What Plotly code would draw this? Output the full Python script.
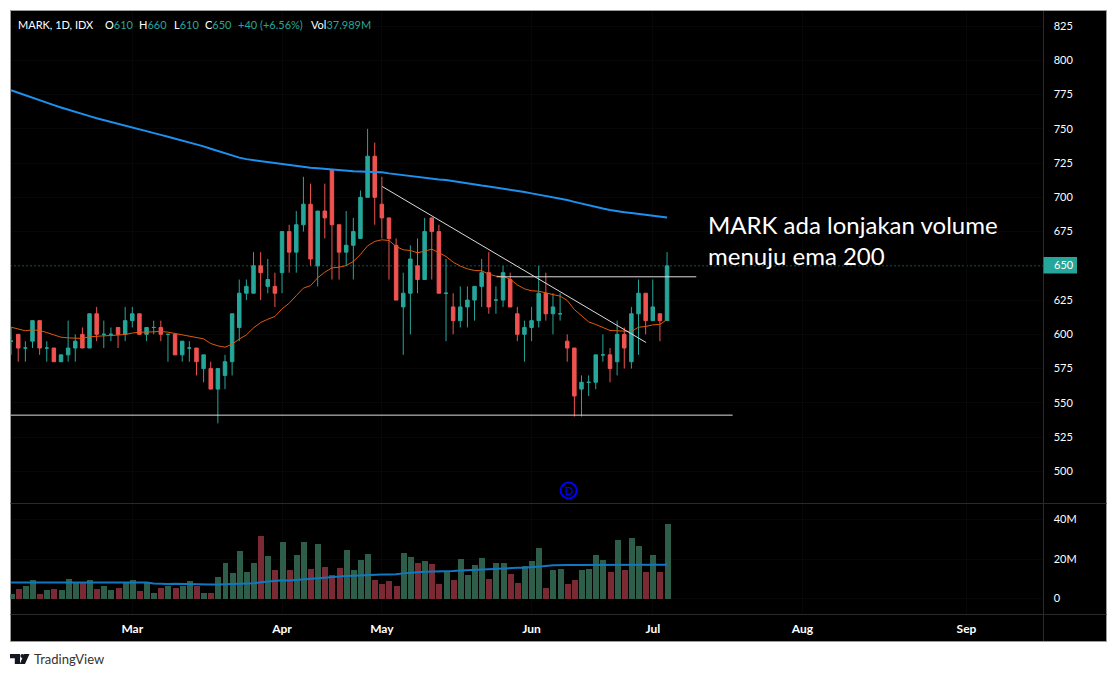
import plotly.graph_objects as go

W, H = 1117, 677
FONT = "Lato"

# Daily bars, oldest first
opens = [595,600,590,595,610,590,590,580,585,590,600,590,615,600,600,605,600,610,615,600,605,605,600,600,585,590,590,575,575,560,
         570,580,605,630,630,650,635,635,645,675,660,680,695,650,690,720,680,660,665,670,700,730,695,685,665,620,630,650,640,685,
         675,630,620,610,620,625,635,645,625,625,640,615,600,605,610,630,615,615,595,590,560,565,565,585,585,580,600,580,615,630,610,615,610]
highs = [605,600,595,610,610,595,590,585,610,600,605,615,620,610,605,605,620,620,615,605,610,610,600,600,595,595,590,585,580,575,
         585,615,640,640,660,660,655,645,675,680,690,715,710,690,710,720,680,690,685,705,750,740,715,685,670,645,665,670,685,685,
         680,655,630,635,635,635,655,660,635,650,645,620,610,620,650,645,630,630,600,590,570,570,585,600,590,610,605,620,640,630,640,615,660]
lows = [585,580,580,590,585,580,580,580,580,580,590,590,595,590,595,590,595,605,600,595,600,595,580,585,580,580,570,565,560,535,
        560,570,595,625,630,625,630,620,630,645,645,675,650,635,670,640,640,650,640,670,700,680,670,640,625,585,600,630,640,640,
        630,595,600,605,605,610,620,615,615,620,620,595,580,595,605,610,600,610,580,540,540,555,560,580,565,570,575,575,585,600,610,595,610]
closes = [595,590,590,610,590,590,580,585,590,595,590,615,600,600,600,600,610,615,600,605,605,600,600,585,595,590,580,585,560,575,
          580,615,630,635,650,645,640,630,675,660,680,695,655,690,685,680,660,665,675,700,730,700,685,670,625,630,655,640,675,675,
          630,630,610,620,625,635,645,620,625,645,620,600,605,610,630,615,620,615,590,555,565,565,585,585,575,600,590,615,630,610,620,610,650]

# Volume in millions of shares
volumes = [2.5,5.1,6.6,9.7,2.5,4.6,5.1,4.6,10.2,8.1,8.1,9.7,5.1,6.6,4.6,5.6,8.1,9.7,4.1,8.1,3.1,5.6,6.6,5.6,6.6,9.2,6.6,3.1,3.1,11.2,
           18.3,13.2,24.4,13.7,18.3,32.0,21.9,14.7,29.0,14.7,22.4,29.0,15.3,28.0,16.3,12.2,15.8,24.9,14.7,19.8,22.9,9.7,7.6,9.2,6.6,23.4,21.4,18.3,19.3,17.8,
           7.6,13.7,9.7,20.3,12.2,17.3,20.8,10.2,18.3,18.3,12.7,8.1,16.8,19.3,25.9,5.6,14.7,15.3,7.6,9.7,14.7,15.3,22.4,19.8,13.7,30.0,14.7,31.0,27.0,13.7,22.4,13.7,37.989]
volume_ma = [8.1,8.1,8.0,8.1,8.0,7.9,7.9,7.9,7.9,8.0,8.1,8.1,8.2,8.2,8.2,8.1,8.1,8.1,8.1,8.1,7.6,7.4,7.3,7.4,7.4,7.2,7.2,7.1,7.1,7.0,
             7.1,7.2,7.3,7.5,7.7,8.2,8.5,8.9,9.2,9.1,9.4,9.8,10.2,10.5,10.8,11.0,11.1,11.4,11.5,11.7,11.9,12.0,12.1,12.1,12.2,
             12.7,13.1,13.3,13.5,13.6,13.6,13.6,13.9,14.2,14.4,14.6,14.6,14.7,15.0,15.1,15.4,15.5,15.6,16.0,16.3,16.5,16.8,17.0,17.0,17.0,17.0,17.0,17.0,16.9,17.0,17.0,17.1,17.0,16.9,16.9,17.0,16.8,17.1]

# Moving averages of the close
ema20 = [605.2,603.8,602.6,603.3,602.8,601.3,599.4,597.9,597.4,597.2,597.0,598.2,598.7,598.9,599.1,599.4,599.9,600.9,601.6,601.6,602.1,602.1,601.6,600.6,599.9,599.1,597.7,596.7,593.3,591.6,
         590.6,592.8,596.5,599.6,604.7,608.6,611.0,613.0,618.6,622.7,628.3,633.7,635.6,641.2,645.4,648.5,649.0,650.2,653.2,658.3,664.6,667.8,669.0,668.5,664.1,661.7,661.2,659.5,660.7,662.2,
         659.7,656.8,652.7,649.8,647.8,646.6,646.4,643.9,642.5,642.2,640.3,636.1,633.2,631.8,631.5,630.0,629.0,627.9,624.7,618.1,613.3,609.1,607.2,605.0,602.8,602.6,602.1,602.1,605.2,605.7,606.9,607.2,610.8]
ema200 = [778.2,776.3,774.5,772.6,770.8,769.0,767.3,765.6,763.9,762.4,760.8,759.3,757.8,756.5,755.1,753.7,752.5,751.1,749.7,748.3,746.9,745.6,744.2,742.9,741.5,740.0,738.6,737.2,735.5,733.8,
          732.0,730.4,729.0,727.9,727.2,726.5,725.7,725.0,724.2,723.4,722.7,722.0,721.6,721.2,720.7,720.3,719.8,719.4,719.0,718.9,718.8,718.7,718.3,717.5,716.8,716.1,715.5,714.9,714.3,713.7,
          713.1,712.7,711.8,711.0,710.1,709.3,708.6,707.9,707.2,706.5,705.7,704.8,703.9,702.9,702.0,701.1,700.0,699.1,698.0,696.7,695.4,694.1,692.9,691.8,690.8,689.8,689.2,688.5,687.9,687.2,686.6,686.0,685.3]

# Drawn levels: (bar, price) pairs for the support, resistance and falling trend line
support_bars, support_prices = [-1, 101.2], [541, 541]
resist_bars, resist_prices = [68.1, 96.1], [642, 642]
trend_bars, trend_prices = [52.05, 89.07], [707.9, 594]

# Dividend marker
dividend_bar, dividend_price = [78.2], [486]

price_ticks = [500,525,550,575,600,625,675,700,725,750,775,800,825]
volume_ticks = [0, 20, 40]
volume_tick_labels = ["0", "20M", "40M"]
month_bars = [17, 38, 52, 73, 90, 111, 134]
month_labels = ["Mar", "Apr", "May", "Jun", "Jul", "Aug", "Sep"]

TEAL, RED = "#26a69a", "#ef5350"
VOL_UP, VOL_DOWN = "#2e5e49", "#7a2a33"
GRID = "#070707"
PANE_LINE = "#2a2a2a"
BORDER = "#9a9a9a"
LINE = "#dcdcdc"

bars = list(range(len(closes)))


def px_x(x):
    return x / W


def px_y(y):
    return 1 - y / H


up = [i for i in bars if closes[i] >= opens[i]]
down = [i for i in bars if closes[i] < opens[i]]

fig = go.Figure()


def add_candles(idx, color):
    fig.add_trace(go.Candlestick(
        x=idx,
        open=[opens[i] for i in idx], high=[highs[i] for i in idx],
        low=[lows[i] for i in idx], close=[closes[i] for i in idx],
        increasing=dict(line=dict(color=color, width=1), fillcolor=color),
        decreasing=dict(line=dict(color=color, width=1), fillcolor=color),
        whiskerwidth=0, showlegend=False, xaxis="x", yaxis="y", hoverinfo="skip",
    ))


add_candles(up, TEAL)
add_candles(down, RED)

fig.add_trace(go.Scatter(x=bars, y=ema200, mode="lines", line=dict(color="#1e90ee", width=2),
                         xaxis="x", yaxis="y", showlegend=False, hoverinfo="skip"))
fig.add_trace(go.Scatter(x=bars, y=ema20, mode="lines", line=dict(color="#e05a0c", width=1),
                         xaxis="x", yaxis="y", showlegend=False, hoverinfo="skip"))

for xs, ys in ((support_bars, support_prices), (resist_bars, resist_prices), (trend_bars, trend_prices)):
    fig.add_trace(go.Scatter(x=xs, y=ys, mode="lines", line=dict(color=LINE, width=1),
                             xaxis="x", yaxis="y", showlegend=False, hoverinfo="skip"))

fig.add_trace(go.Scatter(
    x=dividend_bar, y=dividend_price, mode="markers",
    marker=dict(symbol="circle", size=16, color="#000000", line=dict(color="#0000ff", width=2)),
    xaxis="x", yaxis="y", showlegend=False, hoverinfo="skip",
))

fig.add_trace(go.Bar(
    x=bars, y=volumes, width=0.84,
    marker=dict(color=[VOL_UP if closes[i] >= opens[i] else VOL_DOWN for i in bars], line=dict(width=0)),
    xaxis="x2", yaxis="y2", showlegend=False, hoverinfo="skip",
))
fig.add_trace(go.Scatter(x=bars, y=volume_ma, mode="lines", line=dict(color="#1078c0", width=2),
                         xaxis="x2", yaxis="y2", showlegend=False, hoverinfo="skip"))

# Bar index maps linearly across the pane width
x_range = [-0.084, 144.8]

shapes = [
    # Chart frame, pane separators and the price scale divider
    dict(type="rect", xref="paper", yref="paper", x0=px_x(10.5), x1=px_x(1106.5), y0=px_y(641.5), y1=px_y(10.5),
         line=dict(color=BORDER, width=1), fillcolor="#000000", layer="below"),
    dict(type="line", xref="paper", yref="paper", x0=px_x(10.5), x1=px_x(1106.5), y0=px_y(503.5), y1=px_y(503.5),
         line=dict(color=PANE_LINE, width=1), layer="above"),
    dict(type="line", xref="paper", yref="paper", x0=px_x(10.5), x1=px_x(1106.5), y0=px_y(614.5), y1=px_y(614.5),
         line=dict(color=PANE_LINE, width=1), layer="above"),
    dict(type="line", xref="paper", yref="paper", x0=px_x(1043.5), x1=px_x(1043.5), y0=px_y(641), y1=px_y(11),
         line=dict(color=PANE_LINE, width=1), layer="above"),
    # Last close
    dict(type="line", xref="x", yref="y", x0=x_range[0], x1=x_range[1], y0=closes[-1], y1=closes[-1],
         line=dict(color=TEAL, width=1, dash="1px,3px"), layer="below"),
    # Last close tag on the price scale
    dict(type="rect", xref="paper", yref="paper", x0=px_x(1043.5), x1=px_x(1077), y0=px_y(273.5), y1=px_y(257),
         fillcolor=TEAL, line=dict(width=0), layer="above"),
]


def logo_path():
    def pt(x, y):
        return f"{px_x(x):.5f},{px_y(y):.5f}"
    return ("M" + pt(10, 654) + " L" + pt(20, 654) + " L" + pt(20, 664) + " L" + pt(14.8, 664)
            + " L" + pt(14.8, 658.2) + " L" + pt(10, 658.2) + " Z "
            + "M" + pt(24, 654) + " L" + pt(29.5, 654) + " L" + pt(25, 664) + " L" + pt(19.8, 664) + " Z")


shapes.append(dict(type="path", xref="paper", yref="paper", path=logo_path(),
                   fillcolor="#131722", line=dict(width=0), layer="above"))
shapes.append(dict(type="circle", xref="paper", yref="paper", x0=px_x(20.4), x1=px_x(24.2),
                   y0=px_y(658), y1=px_y(654), fillcolor="#131722", line=dict(width=0), layer="above"))


def note(x, y, text, color="#ffffff", size=11, anchor="left"):
    return dict(xref="paper", yref="paper", x=px_x(x), y=px_y(y), text=text, showarrow=False,
                xanchor=anchor, yanchor="middle", align="left",
                font=dict(color=color, size=size, family=FONT), borderpad=0)


annotations = [
    note(17, 24, "MARK, 1D, IDX"),
    note(104, 24, f'O<span style="color:{TEAL}">610</span>'),
    note(138, 24, f'H<span style="color:{TEAL}">660</span>'),
    note(172.5, 24, f'L<span style="color:{TEAL}">610</span>'),
    note(203.5, 24, f'C<span style="color:{TEAL}">650</span>'),
    note(236.5, 24, "+40 (+6.56%)", color=TEAL),
    note(310, 24, f'Vol<span style="color:{TEAL}">37.989M</span>'),
    note(707, 240, "MARK ada lonjakan volume<br>menuju ema 200", size=24),
    note(33, 659, "TradingView", size=13, color="#333333"),
    note(1052.5, 264.5, "650"),
    dict(xref="x", yref="y", x=dividend_bar[0], y=dividend_price[0], text="D", showarrow=False,
         xanchor="center", yanchor="middle", font=dict(color="#0000ff", size=11, family=FONT)),
]

axis_font = dict(color="#ffffff", size=11, family=FONT)

fig.update_layout(
    width=W, height=H, autosize=False,
    margin=dict(l=0, r=0, t=0, b=0),
    paper_bgcolor="#ffffff", plot_bgcolor="#000000",
    bargap=0, dragmode=False, showlegend=False,
    shapes=shapes, annotations=annotations,
    xaxis=dict(domain=[px_x(10.5), px_x(1043.5)], range=x_range, anchor="y", tickvals=month_bars, showticklabels=False,
               ticks="", gridcolor=GRID, showline=False, zeroline=False, rangeslider=dict(visible=False)),
    yaxis=dict(domain=[px_y(503.5), px_y(10.5)], range=[476.5, 836.4], side="right", anchor="x",
               tickvals=price_ticks, tickfont=axis_font, ticks="outside", ticklen=7, tickcolor="#000000",
               gridcolor=GRID, showline=False, zeroline=False),
    xaxis2=dict(domain=[px_x(10.5), px_x(1043.5)], range=x_range, anchor="y2", tickvals=month_bars, ticktext=month_labels,
                tickfont=dict(color="#ffffff", size=12, family=FONT, weight=700), ticks="outside", ticklen=3, tickcolor="#000000",
                gridcolor=GRID, showline=False, zeroline=False),
    yaxis2=dict(domain=[px_y(614.5), px_y(503.5)], range=[-8.2, 48.2], side="right", anchor="x2",
                tickvals=volume_ticks, ticktext=volume_tick_labels, tickfont=axis_font, ticks="outside", ticklen=7,
                tickcolor="#000000", gridcolor=GRID, showline=False, zeroline=False),
)

assert all(len(a) == len(closes) for a in (opens, highs, lows, volumes, volume_ma, ema20, ema200))

fig.write_html("out.html", config={"displayModeBar": False})
